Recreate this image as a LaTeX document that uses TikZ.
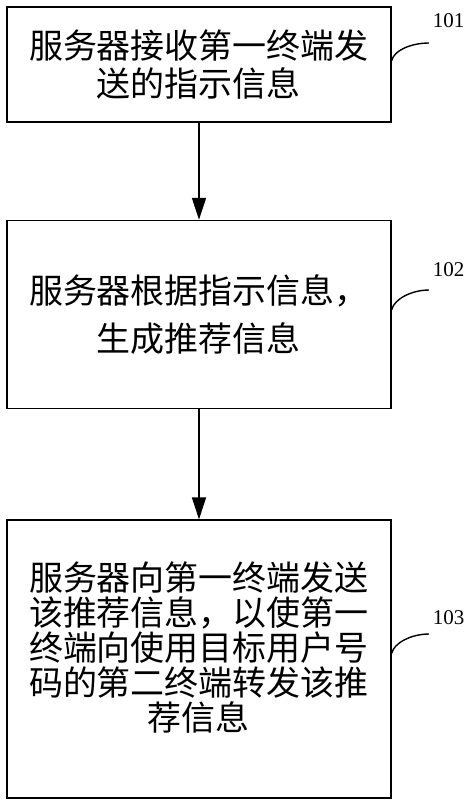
\documentclass[tikz,border=0pt]{standalone}
\usepackage{fontspec}
\setmainfont{Liberation Serif}
\newfontfamily\cjk{Noto Sans CJK SC}
\usetikzlibrary{positioning, arrows.meta}

\begin{document}
\begin{tikzpicture}[
    x=1pt, y=-1pt,
    >={Triangle[length=22pt,width=14pt]},
    line width=1.6pt,
    node distance=97pt,
    box/.style={
        draw=black,
        rectangle,
        minimum width=384pt,
        align=center,
        inner sep=0pt,
        font=\cjk\fontsize{34pt}{37pt}\selectfont
    },
    tag/.style={
        anchor=base west,
        inner sep=0pt,
        font=\fontsize{21pt}{21pt}\selectfont
    },
    lead/.style={
        line width=1.4pt
    }
]

    \useasboundingbox (0,0) rectangle (474,804);

    % === Étapes ===
    \node[box, minimum height=115pt] (b1) at (199,64.5)
        {服务器接收第一终端发\\[1pt]送的指示信息};
    \node[box, minimum height=188pt, below=of b1] (b2)
        {服务器根据指示信息，\\[11pt]生成推荐信息};
    \node[box, minimum height=278pt, below=110pt of b2] (b3)
        {服务器向第一终端发送\\[-2pt]该推荐信息，以使第一\\[-2pt]终端向使用目标用户号\\[-2pt]码的第二终端转发该推\\[-2pt]荐信息\\[-10pt]};

    % === Repères ===
    \node[tag] (l1) at (432,27) {101};
    \node[tag] (l2) at (432,276) {102};
    \node[tag] (l3) at (432,624) {103};

    % === Flèches ===
    \draw[->] (b1) -- (b2);
    \draw[->] (b2) -- (b3);

    % === Traits de renvoi ===
    \draw[lead] ([yshift=4pt]b1.east)
        .. controls ([xshift=2pt,yshift=14pt]b1.east) and ([xshift=-21pt,yshift=-15pt]l1.south west)
        .. ([xshift=-3pt,yshift=-15pt]l1.south west);
    \draw[lead] ([yshift=5pt]b2.east)
        .. controls ([xshift=2pt,yshift=15pt]b2.east) and ([xshift=-21pt,yshift=-13pt]l2.south west)
        .. ([xshift=-3pt,yshift=-13pt]l2.south west);
    \draw[lead] ([yshift=6pt]b3.east)
        .. controls ([xshift=2pt,yshift=16pt]b3.east) and ([xshift=-21pt,yshift=-9pt]l3.south west)
        .. ([xshift=-3pt,yshift=-9pt]l3.south west);

\end{tikzpicture}
\end{document}
